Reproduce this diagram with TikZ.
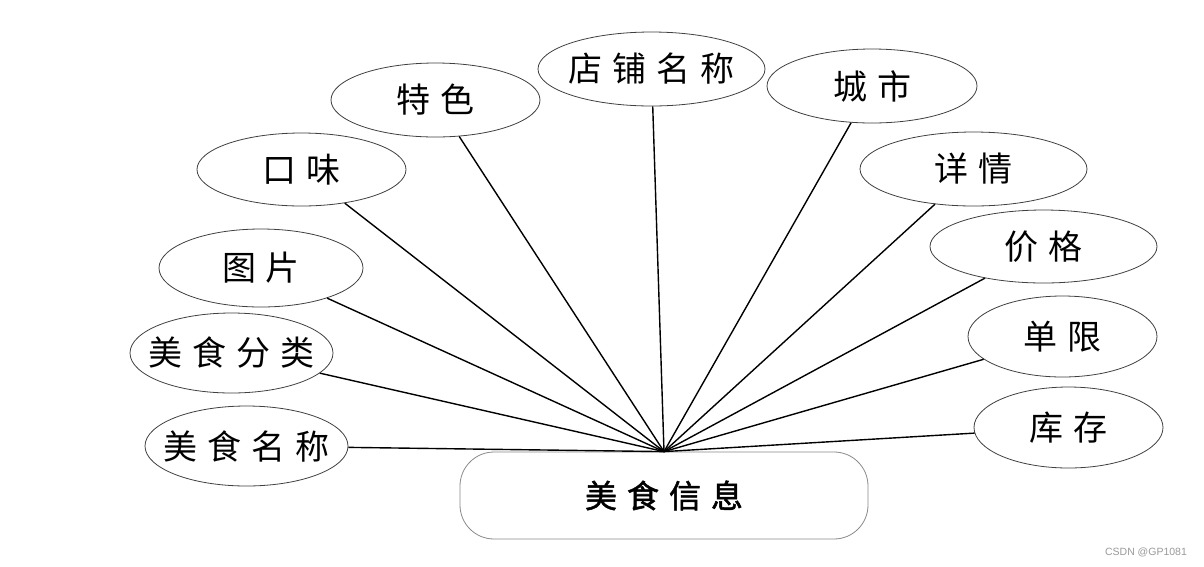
\documentclass[tikz,border=0pt]{standalone}
\usepackage{fontspec}
\newfontfamily\cjk{Noto Sans CJK SC}
\newfontfamily\cjkb[FakeBold=1.6]{Noto Sans CJK SC}
\newfontfamily\wm{Liberation Sans}
\usetikzlibrary{shapes.geometric}
\newcommand\gp{\hspace{10pt}}
\newcommand\gq{\hspace{10pt}}
\newcommand\lbl[1]{\makebox[0pt]{#1}}
\definecolor{ellcol}{HTML}{404040}
\definecolor{rectcol}{HTML}{8A8A8A}
\definecolor{wmcol}{HTML}{9A9A9A}
\begin{document}
\begin{tikzpicture}[x=1pt,y=-1pt,
  attr/.style={ellipse,draw=ellcol,line width=0.8pt,inner sep=0pt,
    font=\cjk\fontsize{34}{34}\selectfont},
  link/.style={draw=black,line width=1.4pt}]
\useasboundingbox (0,0) rectangle (1204,566);
\fill[white] (0,0) rectangle (1204,566);
\node[draw=rectcol,line width=0.8pt,rounded corners=34pt,minimum width=408pt,minimum height=87pt,inner sep=0pt,
  font=\cjkb\fontsize{32}{32}\selectfont] (ent) at (664,495.5) {美\gq{}食\gq{}信\gq{}息};
\coordinate (hub) at (ent.north);
\node[attr,minimum width=227pt,minimum height=74pt] (a1) at (651.5,69) {\lbl{店\gp{}铺\gp{}名\gp{}称}};
\node[attr,minimum width=210pt,minimum height=74pt] (a2) at (872,86) {\lbl{城\gp{}市}};
\node[attr,minimum width=227pt,minimum height=74pt] (a3) at (973.5,169) {\lbl{详\gp{}情}};
\node[attr,minimum width=227pt,minimum height=73pt] (a4) at (1043.5,246.5) {\lbl{价\gp{}格}};
\node[attr,minimum width=189pt,minimum height=81pt] (a5) at (1062.5,336.5) {\lbl{单\gp{}限}};
\node[attr,minimum width=189pt,minimum height=81pt] (a6) at (1068.5,427.5) {\lbl{库\gp{}存}};
\node[attr,minimum width=209pt,minimum height=74pt] (a7) at (435.5,100) {\lbl{特\gp{}色}};
\node[attr,minimum width=209pt,minimum height=73pt] (a8) at (301.5,169.5) {\lbl{口\gp{}味}};
\node[attr,minimum width=204pt,minimum height=78pt] (a9) at (261,268) {\lbl{图\gp{}片}};
\node[attr,minimum width=203pt,minimum height=80pt] (a10) at (231.5,353) {\lbl{美\gp{}食\gp{}分\gp{}类}};
\node[attr,minimum width=203pt,minimum height=80pt] (a11) at (246.5,446) {\lbl{美\gp{}食\gp{}名\gp{}称}};
\foreach \n in {a1,a2,a3,a4,a5,a6,a7,a8,a9,a10,a11}
  \draw[link] (hub) -- (\n);
\node[font=\wm\fontsize{10.5}{11}\selectfont,text=wmcol,inner sep=0pt] (wm) at (1146,552) {CSDN @GP1081};
\end{tikzpicture}
\end{document}
